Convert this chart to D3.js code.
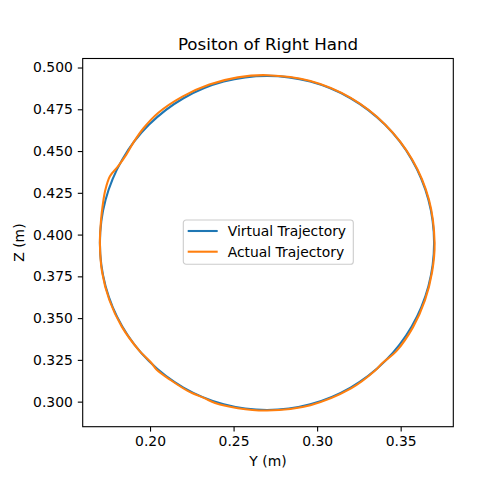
<!DOCTYPE html>
<html>
<head>
  <meta charset="utf-8">
  <style>
  body {
    margin: 0;
    background: #fff;
  }
  svg text {
    font-family: "DejaVu Sans", sans-serif;
    fill: #000;
  }
  .axis .domain {
    display: none;
  }
  .axis .tick line {
    stroke: #000;
    stroke-width: 1.1px;
  }
  .axis .tick text {
    font-size: 13.9px;
  }
  </style>
</head>
<body>
  <div id="chart"></div>
  <script src="https://d3js.org/d3.v7.min.js"></script>
  <script>
  // virtual (commanded) trajectory, Y and Z in metres
  var virtualY = [0.3700, 0.3666, 0.3566, 0.3407, 0.3200, 0.2959, 0.2700, 0.2441,
                  0.2200, 0.1993, 0.1834, 0.1734, 0.1700, 0.1734, 0.1834, 0.1993,
                  0.2200, 0.2441, 0.2700, 0.2959, 0.3200, 0.3407, 0.3566, 0.3666];
  var virtualZ = [0.3950, 0.4209, 0.4450, 0.4657, 0.4816, 0.4916, 0.4950, 0.4916,
                  0.4816, 0.4657, 0.4450, 0.4209, 0.3950, 0.3691, 0.3450, 0.3243,
                  0.3084, 0.2984, 0.2950, 0.2984, 0.3084, 0.3243, 0.3450, 0.3691];

  var actualY = [0.3703, 0.3669, 0.3568, 0.3408, 0.3201, 0.2960, 0.2700, 0.2525,
                 0.2355, 0.2194, 0.2048, 0.1962, 0.1901, 0.1857, 0.1806, 0.1760,
                 0.1732, 0.1717, 0.1707, 0.1700, 0.1713, 0.1757, 0.1831, 0.1934,
                 0.2007, 0.2040, 0.2125, 0.2228, 0.2325, 0.2389, 0.2526, 0.2700,
                 0.2960, 0.3203, 0.3344, 0.3393, 0.3473, 0.3574, 0.3645, 0.3688];
  var actualZ = [0.3950, 0.4210, 0.4451, 0.4658, 0.4818, 0.4919, 0.4954, 0.4941,
                 0.4898, 0.4826, 0.4728, 0.4638, 0.4552, 0.4477, 0.4405, 0.4349,
                 0.4265, 0.4177, 0.4090, 0.3950, 0.3776, 0.3607, 0.3449, 0.3307,
                 0.3233, 0.3191, 0.3128, 0.3063, 0.3021, 0.2992, 0.2961, 0.2947,
                 0.2979, 0.3079, 0.3183, 0.3233, 0.3301, 0.3446, 0.3606, 0.3776];

  var xTicks = [0.20, 0.25, 0.30, 0.35];
  var yTicks = [0.300, 0.325, 0.350, 0.375, 0.400, 0.425, 0.450, 0.475, 0.500];
  var seriesNames = ["Virtual Trajectory", "Actual Trajectory"];
  var seriesColors = ["#1f77b4", "#ff7f0e"];

  var box = {left: 82.7, right: 453.3, top: 58.5, bottom: 426.7};

  var svg = d3.select("#chart").append("svg")
      .attr("width", 480)
      .attr("height", 480);

  var x = d3.scaleLinear()
    .domain([0.1597, 0.3815])
    .range([box.left, box.right]);

  var y = d3.scaleLinear()
    .domain([0.285, 0.5054])
    .range([box.bottom, box.top]);

  var x_axis = d3.axisBottom(x).tickValues(xTicks).tickFormat(d3.format(".2f"))
    .tickSizeInner(4.9).tickSizeOuter(0).tickPadding(4.9);
  var y_axis = d3.axisLeft(y).tickValues(yTicks).tickFormat(d3.format(".3f"))
    .tickSizeInner(4.9).tickSizeOuter(0).tickPadding(4.9);

  svg.append("g")
      .attr("class", "x axis")
      .attr("transform", "translate(0," + box.bottom + ")")
      .call(x_axis);

  svg.append("g")
      .attr("class", "y axis")
      .attr("transform", "translate(" + box.left + ",0)")
      .call(y_axis);

  svg.selectAll(".axis text").attr("fill", "#000");

  var line = d3.line()
    .x(function(d){ return x(d[0]); })
    .y(function(d){ return y(d[1]); })
    .curve(d3.curveCatmullRomClosed);

  var virtualPts = virtualY.map(function(v, i){ return [v, virtualZ[i]]; });
  var actualPts = actualY.map(function(v, i){ return [v, actualZ[i]]; });

  svg.append("path")
      .datum(virtualPts)
      .attr("d", line)
      .attr("fill", "none")
      .attr("stroke", seriesColors[0])
      .attr("stroke-width", 2.08);

  svg.append("path")
      .datum(actualPts)
      .attr("d", line)
      .attr("fill", "none")
      .attr("stroke", seriesColors[1])
      .attr("stroke-width", 2.08);

  // frame
  svg.append("rect")
      .attr("x", box.left)
      .attr("y", box.top)
      .attr("width", box.right - box.left)
      .attr("height", box.bottom - box.top)
      .attr("fill", "none")
      .attr("stroke", "#000")
      .attr("stroke-width", 1.1);

  // titles
  svg.append("text")
      .attr("x", (box.left + box.right) / 2)
      .attr("y", 50)
      .attr("text-anchor", "middle")
      .style("font-size", "16.7px")
      .text("Positon of Right Hand");

  svg.append("text")
      .attr("x", (box.left + box.right) / 2)
      .attr("y", 465.5)
      .attr("text-anchor", "middle")
      .style("font-size", "13.9px")
      .text("Y (m)");

  svg.append("text")
      .attr("transform", "translate(24," + ((box.top + box.bottom) / 2) + ") rotate(-90)")
      .attr("text-anchor", "middle")
      .style("font-size", "13.9px")
      .text("Z (m)");

  // legend
  var legend = svg.append("g")
      .attr("transform", "translate(183.3,220)");

  legend.append("rect")
      .attr("width", 170)
      .attr("height", 44.3)
      .attr("rx", 2.8)
      .attr("fill", "#fff")
      .attr("fill-opacity", 0.8)
      .attr("stroke", "#cccccc")
      .attr("stroke-width", 1.1);

  var entries = legend.selectAll("g.entry")
      .data(seriesNames)
    .enter().append("g")
      .attr("class", "entry")
      .attr("transform", function(d, i){ return "translate(0," + (11 + i * 20.7) + ")"; });

  entries.append("line")
      .attr("x1", 4.4)
      .attr("x2", 34.4)
      .attr("stroke", function(d, i){ return seriesColors[i]; })
      .attr("stroke-width", 2.08);

  entries.append("text")
      .attr("x", 44.4)
      .attr("dy", "0.36em")
      .style("font-size", "13.9px")
      .text(function(d){ return d; });
  </script>
</body>
</html>
